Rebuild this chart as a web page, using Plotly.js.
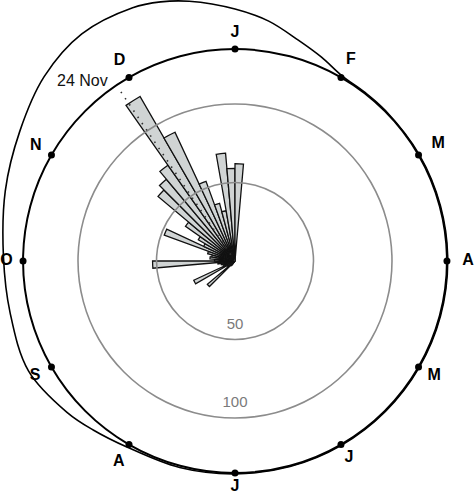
<!DOCTYPE html>
<html>
<head>
<meta charset="utf-8">
<script src="https://cdn.plot.ly/plotly-3.0.1.min.js"></script>
<style>
  html, body { margin: 0; padding: 0; width: 474px; height: 496px; overflow: hidden; background: white; }
  /* the figure is cropped like the original: the polar area is larger than the window */
  #chart { position: absolute; left: -48.5px; top: -22px; width: 566px; height: 566px; }
</style>
</head>
<body>
<div id="chart"></div>
<script>
// all angles in degrees, clockwise from 1 January at the top
const monthLabels = ['J', 'F', 'M', 'A', 'M', 'J', 'J', 'A', 'S', 'O', 'N', 'D'];
const monthAngles = [0, 30, 60, 90, 120, 150, 180, 210, 240, 270, 300, 330];
const monthLabelR = [145, 147.5, 149.5, 148.5, 146.5, 145, 144, 148, 147, 145.5, 146.5, 147];

// rose bars (5 degree bins)
const barAngles = [217.5, 222.5, 227.5, 232.5, 237.5, 242.5, 247.5, 252.5, 257.5, 262.5,
                   267.5, 272.5, 277.5, 282.5, 287.5, 292.5, 297.5, 302.5, 307.5, 312.5,
                   317.5, 322.5, 327.5, 332.5, 337.5, 342.5, 347.5, 352.5, 357.5, 2.5];
const barValues = [3, 4, 23, 5, 6, 29, 7, 8, 9, 11,
                   52.5, 13, 16, 15, 18, 48, 22, 27, 38.5, 64,
                   68, 74.5, 121, 90.5, 54, 38, 32.5, 69, 59, 62];

const ringValues = [50, 100];
const ringLabelR = [41, 90.5];

// outer envelope
const envelopeAngles = [0, 8, 16, 23, 30, 37.5, 45, 60, 75, 90, 105, 120, 135, 150, 165, 180,
                        195, 210, 220, 228, 242, 257, 271, 287, 301, 314, 326, 338, 344, 350];
const envelopeValues = [160.5, 154.3, 146.3, 141, 136.2, 135.6, 135.5, 135.5, 135.5, 135.5, 135.5, 135.5, 135.5, 135.5, 135.5, 135.6,
                        136.2, 137, 140.5, 144, 149, 147, 147.5, 153, 160, 169, 174.5, 174, 171.7, 168];

const monthCircleR = 135;
const peakAngle = 326;
const peakLineR = 130;
const peakLabel = '24 Nov';
const peakLabelAngle = 319.6;
const peakLabelR = 150;

const pxPerUnit = 1.57;
const size = 566;
const rMax = size / 2 / pxPerUnit;

const font = 'Liberation Sans, Arial, sans-serif';

// close a polar path so the spline is drawn closed
const closed = arr => arr.concat([arr[0]]);

// sampling used to draw the plain circles
const circleAngles = [];
for (let a = 0; a < 360; a += 15) circleAngles.push(a);

const traces = [];

traces.push({
  type: 'barpolar',
  r: barValues,
  theta: barAngles,
  width: 5,
  marker: { color: '#d0d4d4', line: { color: '#111', width: 1.3 } },
  hoverinfo: 'skip'
});

ringValues.forEach(v => {
  traces.push({
    type: 'scatterpolar',
    mode: 'lines',
    r: closed(circleAngles.map(() => v)),
    theta: closed(circleAngles),
    line: { color: '#8c8c8c', width: 1.6, shape: 'spline' },
    hoverinfo: 'skip'
  });
});

traces.push({
  type: 'scatterpolar',
  mode: 'lines',
  r: [0, peakLineR],
  theta: [peakAngle, peakAngle],
  line: { color: '#333', width: 1.6, dash: '1.5px,6px' },
  hoverinfo: 'skip'
});

traces.push({
  type: 'scatterpolar',
  mode: 'lines',
  r: closed(envelopeValues),
  theta: closed(envelopeAngles),
  line: { color: '#000', width: 1.6, shape: 'spline' },
  hoverinfo: 'skip'
});

traces.push({
  type: 'scatterpolar',
  mode: 'lines',
  r: closed(circleAngles.map(() => monthCircleR)),
  theta: closed(circleAngles),
  line: { color: '#000', width: 2, shape: 'spline' },
  hoverinfo: 'skip'
});

traces.push({
  type: 'scatterpolar',
  mode: 'markers',
  r: monthAngles.map(() => monthCircleR),
  theta: monthAngles,
  marker: { color: '#000', size: 7 },
  hoverinfo: 'skip'
});

traces.push({
  type: 'scatterpolar',
  mode: 'text',
  r: monthLabelR,
  theta: monthAngles,
  text: monthLabels,
  textposition: 'middle center',
  textfont: { family: font, size: 16, color: '#000', weight: 'bold' },
  cliponaxis: false,
  hoverinfo: 'skip'
});

traces.push({
  type: 'scatterpolar',
  mode: 'text',
  r: [peakLabelR],
  theta: [peakLabelAngle],
  text: [peakLabel],
  textposition: 'middle center',
  textfont: { family: font, size: 16, color: '#111' },
  cliponaxis: false,
  hoverinfo: 'skip'
});

traces.push({
  type: 'scatterpolar',
  mode: 'text',
  r: ringLabelR,
  theta: [180, 180],
  text: ringValues.map(String),
  textposition: 'middle center',
  textfont: { family: font, size: 15, color: '#7a7a7a' },
  hoverinfo: 'skip'
});

const layout = {
  width: size,
  height: size,
  margin: { l: 0, r: 0, t: 0, b: 0, pad: 0 },
  showlegend: false,
  paper_bgcolor: 'rgba(0,0,0,0)',
  polar: {
    domain: { x: [0, 1], y: [0, 1] },
    bgcolor: 'rgba(0,0,0,0)',
    radialaxis: {
      range: [0, rMax],
      showgrid: false,
      showline: false,
      showticklabels: false,
      ticks: ''
    },
    angularaxis: {
      rotation: 90,
      direction: 'clockwise',
      showgrid: false,
      showline: false,
      showticklabels: false,
      ticks: ''
    }
  }
};

Plotly.newPlot('chart', traces, layout, { displayModeBar: false, staticPlot: true });
</script>
</body>
</html>
